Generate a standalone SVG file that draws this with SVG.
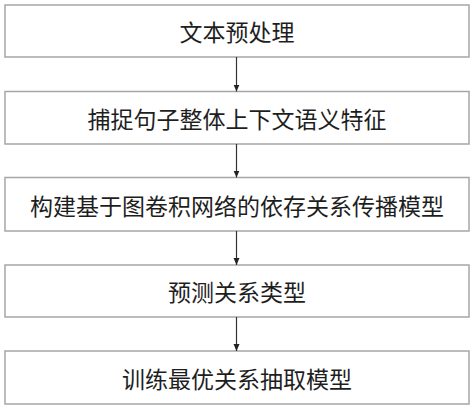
<svg xmlns="http://www.w3.org/2000/svg" width="474" height="410" viewBox="0 0 474 410">
<style>
.box{fill:#fff;stroke:#a6a6a6;stroke-width:1.5}
.lbl{font-family:"Noto Sans CJK SC","Noto Sans CJK JP",sans-serif;font-size:23px;fill:#1e1e1e;text-anchor:middle;dominant-baseline:central}
.con{stroke:#333;stroke-width:1.2;fill:none;marker-end:url(#ah)}
</style>
<defs>
<marker id="ah" markerWidth="8" markerHeight="8" refX="7" refY="4" orient="auto" markerUnits="userSpaceOnUse">
<path d="M0,1 L7,4 L0,7 Z" fill="#222"/>
</marker>
</defs>
<rect width="474" height="410" fill="#fff"/>
<g id="n1"><rect class="box" x="5" y="5" width="464" height="52"/><text class="lbl" x="237" y="31">文本预处理</text></g>
<g id="n2"><rect class="box" x="5" y="91.5" width="464" height="52.5"/><text class="lbl" x="237" y="118">捕捉句子整体上下文语义特征</text></g>
<g id="n3"><rect class="box" x="5" y="177.5" width="464" height="53.5"/><text class="lbl" x="237" y="204.5">构建基于图卷积网络的依存关系传播模型</text></g>
<g id="n4"><rect class="box" x="5" y="265" width="464" height="52"/><text class="lbl" x="237" y="291">预测关系类型</text></g>
<g id="n5"><rect class="box" x="5" y="351" width="464" height="53"/><text class="lbl" x="237" y="377.5">训练最优关系抽取模型</text></g>
<g id="connectors">
<line class="con" x1="236.5" y1="57" x2="236.5" y2="91.5"/>
<line class="con" x1="236.5" y1="144" x2="236.5" y2="177.5"/>
<line class="con" x1="236.5" y1="231" x2="236.5" y2="265"/>
<line class="con" x1="236.5" y1="317" x2="236.5" y2="351"/>
</g>
</svg>
